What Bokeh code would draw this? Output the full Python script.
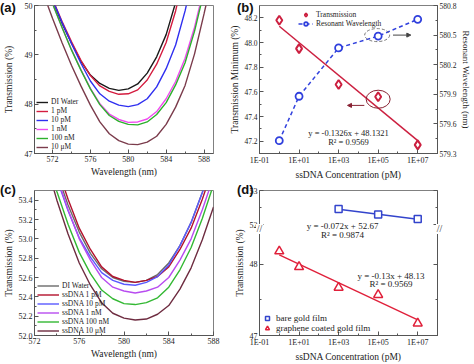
import math
from bokeh.plotting import figure
from bokeh.models import (Legend, LegendItem, Label, Range1d, LinearAxis, FixedTicker,
                          SingleIntervalTicker, CustomJSTickFormatter, NumeralTickFormatter,
                          Arrow, NormalHead, GridBox, Div)
from bokeh.embed import file_html
from bokeh.resources import INLINE

SERIF = "Liberation Serif"
SANS = "Liberation Sans"
AX = "#555555"
TXT = "#222222"

# ---------------- data: panel (a) ----------------
wl_a = [571, 572, 573, 574, 575, 576, 577, 578, 579, 580,
        581, 582, 583, 584, 585, 586, 587, 588, 589]
a_labels = ["DI Water", "1 pM", "10 pM", "1 nM", "100 nM", "10 \u03bcM"]
a_colors = ["#1a1a1a", "#d41c3f", "#2f2ff0", "#f04af0", "#2cb02c", "#7b3c4c"]
a_di = [50.55, 50.08, 49.64, 49.24, 48.87, 48.59, 48.42, 48.32, 48.28, 48.31,
        48.41, 48.63, 48.96, 49.41, 50.06, 50.90, 51.79, 52.69, 53.58]
a_1pm = [50.61, 50.13, 49.68, 49.27, 48.89, 48.58, 48.37, 48.26, 48.20, 48.21,
         48.29, 48.49, 48.81, 49.25, 49.89, 50.72, 51.65, 52.57, 53.50]
a_10pm = [50.62, 50.12, 49.66, 49.23, 48.83, 48.47, 48.21, 48.06, 47.98, 47.95,
          47.99, 48.11, 48.35, 48.72, 49.20, 49.89, 50.74, 51.64, 52.55]
a_1nm = [50.54, 50.04, 49.56, 49.11, 48.70, 48.32, 48.01, 47.80, 47.69, 47.63,
         47.64, 47.70, 47.85, 48.11, 48.46, 48.93, 49.56, 50.36, 51.18]
a_100nm = [50.54, 50.04, 49.56, 49.10, 48.69, 48.31, 47.99, 47.77, 47.65, 47.59,
           47.58, 47.64, 47.79, 48.03, 48.39, 48.84, 49.48, 50.28, 51.12]
a_10um = [50.26, 49.74, 49.25, 48.79, 48.37, 47.98, 47.64, 47.40, 47.26, 47.19,
          47.18, 47.23, 47.35, 47.59, 47.94, 48.38, 49.02, 49.83, 50.68]
a_series = [a_di, a_1pm, a_10pm, a_1nm, a_100nm, a_10um]

# ---------------- data: panel (c) ----------------
wl_c = [572, 573, 574, 575, 576, 577, 578, 579, 580,
        581, 582, 583, 584, 585, 586, 587, 588]
c_labels = ["DI Water", "ssDNA 1 pM", "ssDNA 10 pM", "ssDNA 1 nM", "ssDNA 100 nM", "ssDNA 10 \u03bcM"]
c_colors = ["#6a6a6a", "#b3102c", "#5a5aff", "#b84cf0", "#33b833", "#6e2c40"]
c_di = [54.47, 54.07, 53.68, 53.35, 53.07, 52.85, 52.69, 52.60, 52.56,
        52.55, 52.57, 52.63, 52.75, 52.93, 53.17, 53.48, 53.83]
c_1pm = [54.55, 54.15, 53.75, 53.41, 53.11, 52.89, 52.71, 52.61, 52.57,
         52.55, 52.57, 52.61, 52.71, 52.89, 53.11, 53.41, 53.75]
c_10pm = [54.40, 54.00, 53.62, 53.29, 53.01, 52.81, 52.65, 52.57, 52.53,
          52.52, 52.55, 52.61, 52.73, 52.93, 53.17, 53.48, 53.84]
c_1nm = [54.44, 54.04, 53.64, 53.30, 53.00, 52.78, 52.60, 52.50, 52.46,
         52.44, 52.46, 52.50, 52.60, 52.78, 53.00, 53.30, 53.64]
c_100nm = [54.28, 53.88, 53.49, 53.15, 52.86, 52.64, 52.47, 52.38, 52.33,
           52.32, 52.34, 52.39, 52.50, 52.68, 52.91, 53.21, 53.56]
c_10um = [54.21, 53.80, 53.40, 53.05, 52.75, 52.52, 52.34, 52.23, 52.18,
          52.16, 52.17, 52.22, 52.31, 52.48, 52.70, 52.99, 53.33]
c_series = [c_di, c_1pm, c_10pm, c_1nm, c_100nm, c_10um]

# ---------------- data: panel (b) ----------------
conc = [1, 10, 1e3, 1e5, 1e7]
trans_min = [48.18, 47.95, 47.66, 47.56, 47.17]
res_wl = [579.43, 579.88, 580.37, 580.49, 580.66]
fit_b = (-0.1326, 48.1321)
conc_ticks = [0.1, 10, 1e3, 1e5, 1e7]
conc_tick_labels = ["1E-01", "1E+01", "1E+03", "1E+05", "1E+07"]
conc_minor = [1, 100, 1e4, 1e6, 1e8]

# ---------------- data: panel (d) ----------------
conc_bare = [1e3, 1e5, 1e7]
bare = [52.46, 52.30, 52.17]
fit_bare = (-0.072, 52.67)
conc_gr = [1, 10, 1e3, 1e5, 1e7]
graphene = [48.18, 47.96, 47.67, 47.57, 47.17]
fit_gr = (-0.13, 48.13)
d_ytick_vals = [47, 48, 52, 53]
d_ytick_labels = ["47", "48", "52", "53"]

# ---------------- helpers ----------------
def base_style(p):
    p.grid.visible = False
    p.outline_line_color = "#808080"
    p.outline_line_width = 1
    p.background_fill_color = "white"
    p.border_fill_color = "white"


def style_axis(ax, lab_size="9.5px", tick_size="8px"):
    ax.axis_line_color = AX
    ax.major_tick_line_color = AX
    ax.minor_tick_line_color = AX
    ax.major_tick_in = 4
    ax.major_tick_out = 0
    ax.minor_tick_in = 2
    ax.minor_tick_out = 0
    ax.major_label_text_font = SERIF
    ax.major_label_text_font_size = tick_size
    ax.major_label_text_color = TXT
    ax.major_label_standoff = 2
    ax.axis_label_text_font = SERIF
    ax.axis_label_text_font_size = lab_size
    ax.axis_label_text_font_style = "normal"
    ax.axis_label_text_color = TXT
    ax.axis_label_standoff = 2


def styled_legend(items, location, font="7.5px", gw=12, lh=8, pad=2, margin=2):
    lg = Legend(items=items, location=location)
    lg.label_text_font = SERIF
    lg.label_text_font_size = font
    lg.label_text_color = TXT
    lg.glyph_width = gw
    lg.glyph_height = lh
    lg.label_height = lh
    lg.label_standoff = 3
    lg.spacing = 0
    lg.padding = pad
    lg.margin = margin
    lg.border_line_color = None
    lg.background_fill_alpha = 0
    return lg


def letter_div(txt, ml):
    return Div(text=txt, width=26, height=16, margin=(0, 0, 0, ml),
               styles={"font-family": SANS, "font-weight": "bold", "font-size": "13px",
                       "color": "#111111", "line-height": "15px"})


def break_div(mt, ml):
    return Div(text="//", width=7, height=10, margin=(mt, 0, 0, ml),
               styles={"font-family": SERIF, "font-size": "10px", "color": "#333333",
                       "line-height": "10px", "text-align": "center",
                       "background-color": "white", "overflow": "hidden"})


log_fmt = CustomJSTickFormatter(args=dict(tv=conc_ticks, tl=conc_tick_labels), code="""
let best = 0;
for (let i = 0; i < tv.length; i++) {
  if (Math.abs(Math.log10(tv[i]) - Math.log10(tick)) < Math.abs(Math.log10(tv[best]) - Math.log10(tick))) best = i;
}
return tl[best];
""")

# ---------------- panel (a) ----------------
pa = figure(width=227, height=182, x_range=Range1d(570.1, 589.0), y_range=Range1d(47, 50),
            output_backend="svg", toolbar_location=None,
            min_border_left=33, min_border_right=14, min_border_top=5, min_border_bottom=27)
base_style(pa)
ra = []
for ys, col in zip(a_series, a_colors):
    ra.append(pa.line(wl_a, ys, line_color=col, line_width=1.4))
pa.xaxis.ticker = SingleIntervalTicker(interval=4, num_minor_ticks=2)
pa.yaxis.ticker = SingleIntervalTicker(interval=1, num_minor_ticks=2)
pa.yaxis.formatter = NumeralTickFormatter(format="0")
pa.xaxis.axis_label = "Wavelength (nm)"
pa.yaxis.axis_label = "Transmission (%)"
for ax in pa.axis:
    style_axis(ax)
pa.yaxis.axis_label_standoff = 8
pa.add_layout(styled_legend([LegendItem(label=l, renderers=[r]) for l, r in zip(a_labels, ra)],
                            (2, 2), gw=12, lh=8))

# ---------------- panel (b) ----------------
pb = figure(width=247, height=182, x_axis_type="log", x_range=Range1d(0.1, 1e8),
            y_range=Range1d(47.1, 48.3), output_backend="svg", toolbar_location=None,
            min_border_left=32, min_border_right=35, min_border_top=5, min_border_bottom=27)
pb.extra_y_ranges = {"wl": Range1d(579.3, 580.8)}
base_style(pb)
RED_B = "#cc2040"
BLUE_B = "#3040dd"
fx = [conc[0], conc[-1]]
fy = [fit_b[0] * math.log10(v) + fit_b[1] for v in fx]
pb.line(fx, fy, line_color=RED_B, line_width=1.5)
r_wl_line = pb.line(conc, res_wl, y_range_name="wl", line_color=BLUE_B, line_width=1.5, line_dash="4 3")
r_wl_pts = pb.scatter(conc, res_wl, y_range_name="wl", marker="circle", size=7,
                      line_color=BLUE_B, line_width=1.8, fill_color="white")
r_tr = pb.scatter(conc, trans_min, marker="diamond", size=9, line_color=RED_B,
                  line_width=2, fill_color="white")
pb.ellipse(x=[10 ** 4.95], y=[580.50], width=25, height=13, width_units="screen",
           height_units="screen", fill_color=None, line_color="#777777", line_dash="3 2",
           line_width=1, y_range_name="wl")
pb.ellipse(x=[10 ** 5.0], y=[47.54], width=24, height=18, width_units="screen",
           height_units="screen", fill_color=None, line_color="#882233", line_width=1)
pb.add_layout(Arrow(end=NormalHead(size=4, line_color="#444444", fill_color="#444444"),
                    x_start=10 ** 5.75, y_start=580.50, x_end=10 ** 6.65, y_end=580.50,
                    y_range_name="wl", line_color="#444444", line_width=1))
pb.add_layout(Arrow(end=NormalHead(size=4, line_color="#882233", fill_color="#882233"),
                    x_start=10 ** 4.3, y_start=47.49, x_end=10 ** 3.45, y_end=47.49,
                    line_color="#882233", line_width=1))
pb.xaxis.ticker = FixedTicker(ticks=conc_ticks, minor_ticks=conc_minor)
pb.xaxis.formatter = log_fmt
pb.yaxis.ticker = SingleIntervalTicker(interval=0.2, num_minor_ticks=2)
pb.yaxis.formatter = NumeralTickFormatter(format="0.0")
pb.xaxis.axis_label = "ssDNA Concentration (pM)"
pb.yaxis.axis_label = "Transmission Minimum (%)"
ax_r = LinearAxis(y_range_name="wl", axis_label="Resonant Wavelength (nm)",
                  ticker=SingleIntervalTicker(interval=0.3, num_minor_ticks=2),
                  formatter=NumeralTickFormatter(format="0.0"))
pb.add_layout(ax_r, "right")
for ax in pb.axis:
    style_axis(ax)
pb.left[0].major_label_text_font_size = "7.5px"
pb.left[0].axis_label_standoff = 1
ax_r.major_label_text_font_size = "7.5px"
ax_r.axis_label_text_font_size = "9px"
try:
    ax_r.axis_label_orientation = "vertical"
except Exception:
    pass
for t, yy in (("y = -0.1326x + 48.1321", 47.265), ("R\u00b2 = 0.9569", 47.19)):
    pb.add_layout(Label(x=10 ** 3.5, y=yy, text=t, text_font=SERIF, text_font_size="8.5px",
                        text_align="center", text_baseline="middle", text_color=TXT))
pb.add_layout(styled_legend([LegendItem(label="Transmission", renderers=[r_tr]),
                             LegendItem(label="Resonant Wavelength", renderers=[r_wl_line, r_wl_pts])],
                            (39, 125), font="7.5px", gw=15, lh=9, pad=1, margin=0))

# ---------------- panel (c) ----------------
pc = figure(width=227, height=182, x_range=Range1d(572, 588), y_range=Range1d(52.0, 53.5),
            output_backend="svg", toolbar_location=None,
            min_border_left=33, min_border_right=14, min_border_top=8, min_border_bottom=27)
base_style(pc)
rc = []
for ys, col in zip(c_series, c_colors):
    rc.append(pc.line(wl_c, ys, line_color=col, line_width=1.4))
pc.xaxis.ticker = SingleIntervalTicker(interval=4, num_minor_ticks=2)
pc.yaxis.ticker = SingleIntervalTicker(interval=0.2, num_minor_ticks=2)
pc.yaxis.formatter = NumeralTickFormatter(format="0.0")
pc.xaxis.axis_label = "Wavelength (nm)"
pc.yaxis.axis_label = "Transmission (%)"
for ax in pc.axis:
    style_axis(ax)
pc.yaxis.axis_label_standoff = 2
pc.add_layout(styled_legend([LegendItem(label=l, renderers=[r]) for l, r in zip(c_labels, rc)],
                            (3, 0), gw=22, lh=9, pad=1, margin=0))

# ---------------- panel (d) ----------------
D_LO = (47.0, 49.03)
D_UP = (48.79, 53.0)


def up_to_lo(v):
    return min(D_LO[1], D_LO[0] + (v - D_UP[0]) / (D_UP[1] - D_UP[0]) * (D_LO[1] - D_LO[0]))


pdd = figure(width=247, height=182, x_axis_type="log", x_range=Range1d(0.1, 1e8),
             y_range=Range1d(*D_LO), output_backend="svg", toolbar_location=None,
             min_border_left=32, min_border_right=35, min_border_top=8, min_border_bottom=25)
pdd.extra_y_ranges = {"upper": Range1d(*D_UP)}
base_style(pdd)
BLUE_D = "#3344cc"
RED_D = "#e0203a"
bx = [conc_bare[0], conc_bare[-1]]
pdd.line(bx, [fit_bare[0] * math.log10(v) + fit_bare[1] for v in bx], y_range_name="upper",
         line_color=BLUE_D, line_width=1.4)
gx = [conc_gr[0], conc_gr[-1]]
pdd.line(gx, [fit_gr[0] * math.log10(v) + fit_gr[1] for v in gx], line_color=RED_D, line_width=1.4)
r_bare = pdd.scatter(conc_bare, bare, y_range_name="upper", marker="square", size=7,
                     line_color=BLUE_D, line_width=1.5, fill_color="white")
r_gr = pdd.scatter(conc_gr, graphene, marker="triangle", size=9, line_color=RED_D,
                   line_width=1.5, fill_color="white")
tick_pos = [v if v < 50 else up_to_lo(v) for v in d_ytick_vals]
d_fmt = CustomJSTickFormatter(args=dict(tp=tick_pos, tl=d_ytick_labels), code="""
let best = 0;
for (let i = 0; i < tp.length; i++) {
  if (Math.abs(tp[i] - tick) < Math.abs(tp[best] - tick)) best = i;
}
return tl[best];
""")
d_ticker = FixedTicker(ticks=tick_pos, minor_ticks=[47.5, up_to_lo(52.5)])
pdd.yaxis.ticker = d_ticker
pdd.yaxis.formatter = d_fmt
pdd.xaxis.ticker = FixedTicker(ticks=conc_ticks, minor_ticks=conc_minor)
pdd.xaxis.formatter = log_fmt
pdd.xaxis.axis_label = "ssDNA Concentration (pM)"
pdd.yaxis.axis_label = "Transmission (%)"
ax_dr = LinearAxis(ticker=d_ticker, formatter=CustomJSTickFormatter(code="return '';"))
pdd.add_layout(ax_dr, "right")
for ax in pdd.axis:
    style_axis(ax)
ax_dr.major_label_standoff = 0
pdd.left[0].axis_label_standoff = 2
for t, xx, yy in (("y = -0.072x + 52.67", 10 ** 3.2, 48.53), ("R\u00b2 = 0.9874", 10 ** 3.2, 48.41),
                  ("y = -0.13x + 48.13", 10 ** 5.65, 47.83), ("R\u00b2 = 0.9569", 10 ** 5.65, 47.72)):
    pdd.add_layout(Label(x=xx, y=yy, text=t, text_font=SERIF, text_font_size="9px",
                         text_align="center", text_baseline="middle", text_color=TXT))
pdd.add_layout(styled_legend([LegendItem(label="bare gold film", renderers=[r_bare]),
                              LegendItem(label="graphene coated gold film", renderers=[r_gr])],
                             "bottom_left", font="9px", gw=12, lh=10, pad=2, margin=2))

layout = GridBox(children=[
    (pa, 0, 0), (pb, 0, 1), (pc, 1, 0), (pdd, 1, 1),
    (letter_div("(a)", 0), 0, 0), (letter_div("(b)", 10), 0, 1),
    (letter_div("(c)", 0), 1, 0), (letter_div("(d)", 10), 1, 1),
    (break_div(42, 29), 1, 1), (break_div(42, 209), 1, 1),
])
open("out.html", "w").write(file_html(layout, INLINE))
